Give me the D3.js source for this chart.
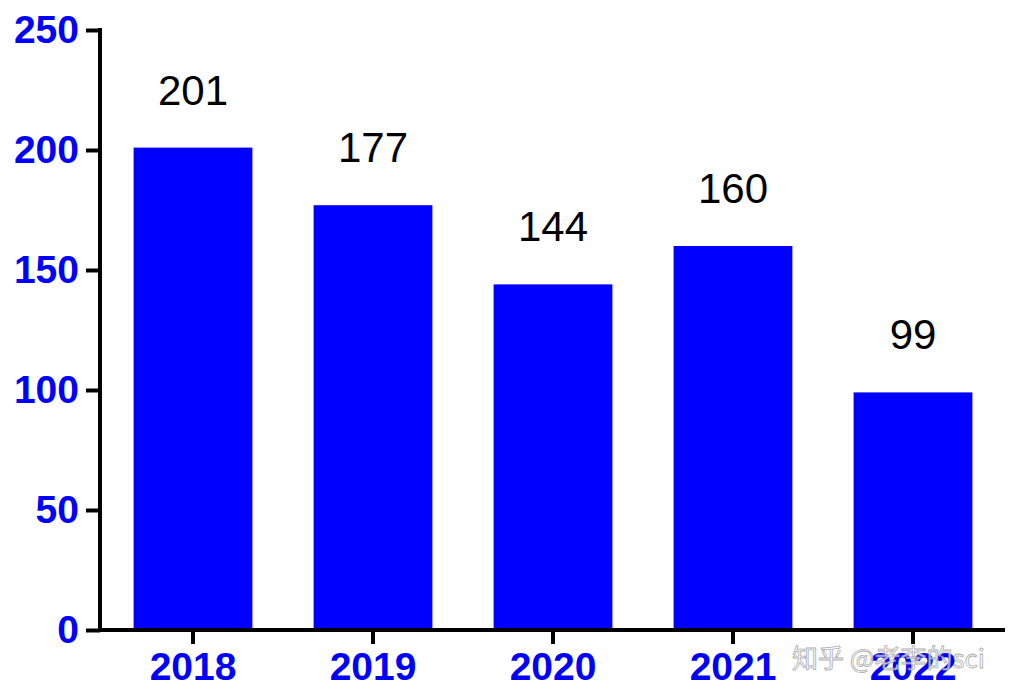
<!DOCTYPE html>
<html><head><meta charset="utf-8">
<script src="https://cdn.jsdelivr.net/npm/d3@7"></script>
<style>body{margin:0;background:#fff}</style>
</head><body><svg></svg>
<script>
var years = ["2018","2019","2020","2021","2022"];
var counts = [201,177,144,160,99];
var yTicks = [0,50,100,150,200,250];

var svg = d3.select("svg").attr("width",1011).attr("height",699);
var x = d3.scaleBand().domain(years).range([103,1003]).paddingInner(0.34).paddingOuter(0.17);
var y = d3.scaleLinear().domain([0,250]).range([630,30]);

svg.selectAll("rect").data(counts).enter().append("rect")
  .attr("x",function(d,i){return x(years[i]);})
  .attr("y",function(d){return y(d);})
  .attr("width",x.bandwidth())
  .attr("height",function(d){return y(0)-y(d);})
  .attr("fill","#0000ff");

svg.selectAll("text.val").data(counts).enter().append("text")
  .attr("class","val")
  .attr("x",function(d,i){return x(years[i])+x.bandwidth()/2;})
  .attr("y",function(d){return y(d)-43;})
  .attr("text-anchor","middle")
  .attr("font-family","Liberation Sans, Arial, sans-serif")
  .attr("font-size",42)
  .text(function(d){return d;});

var yAxis = svg.append("g").attr("transform","translate(100,0)")
  .call(d3.axisLeft(y).tickValues(yTicks).tickSize(14).tickPadding(7));
var xAxis = svg.append("g").attr("transform","translate(0,630)")
  .call(d3.axisBottom(x).tickSize(14).tickPadding(8));
xAxis.select(".domain").attr("d","M98,0H1005");
yAxis.select(".domain").attr("d","M0,632V28");
[yAxis,xAxis].forEach(function(a){
  a.selectAll("path,line").attr("stroke","#000").attr("stroke-width",4);
  a.selectAll("text").attr("fill","#0000ff").attr("font-weight","bold")
    .attr("font-size",39).attr("font-family","Liberation Sans, Arial, sans-serif");
});
svg.append("text").attr("x",985).attr("y",668).attr("text-anchor","end")
  .attr("font-family","Noto Sans CJK SC, sans-serif").attr("font-size",26)
  .attr("fill","#ffffff").attr("stroke","#999").attr("stroke-width",0.8)
  .attr("opacity",0.8).text("知乎 @老李的sci");
</script></body></html>
